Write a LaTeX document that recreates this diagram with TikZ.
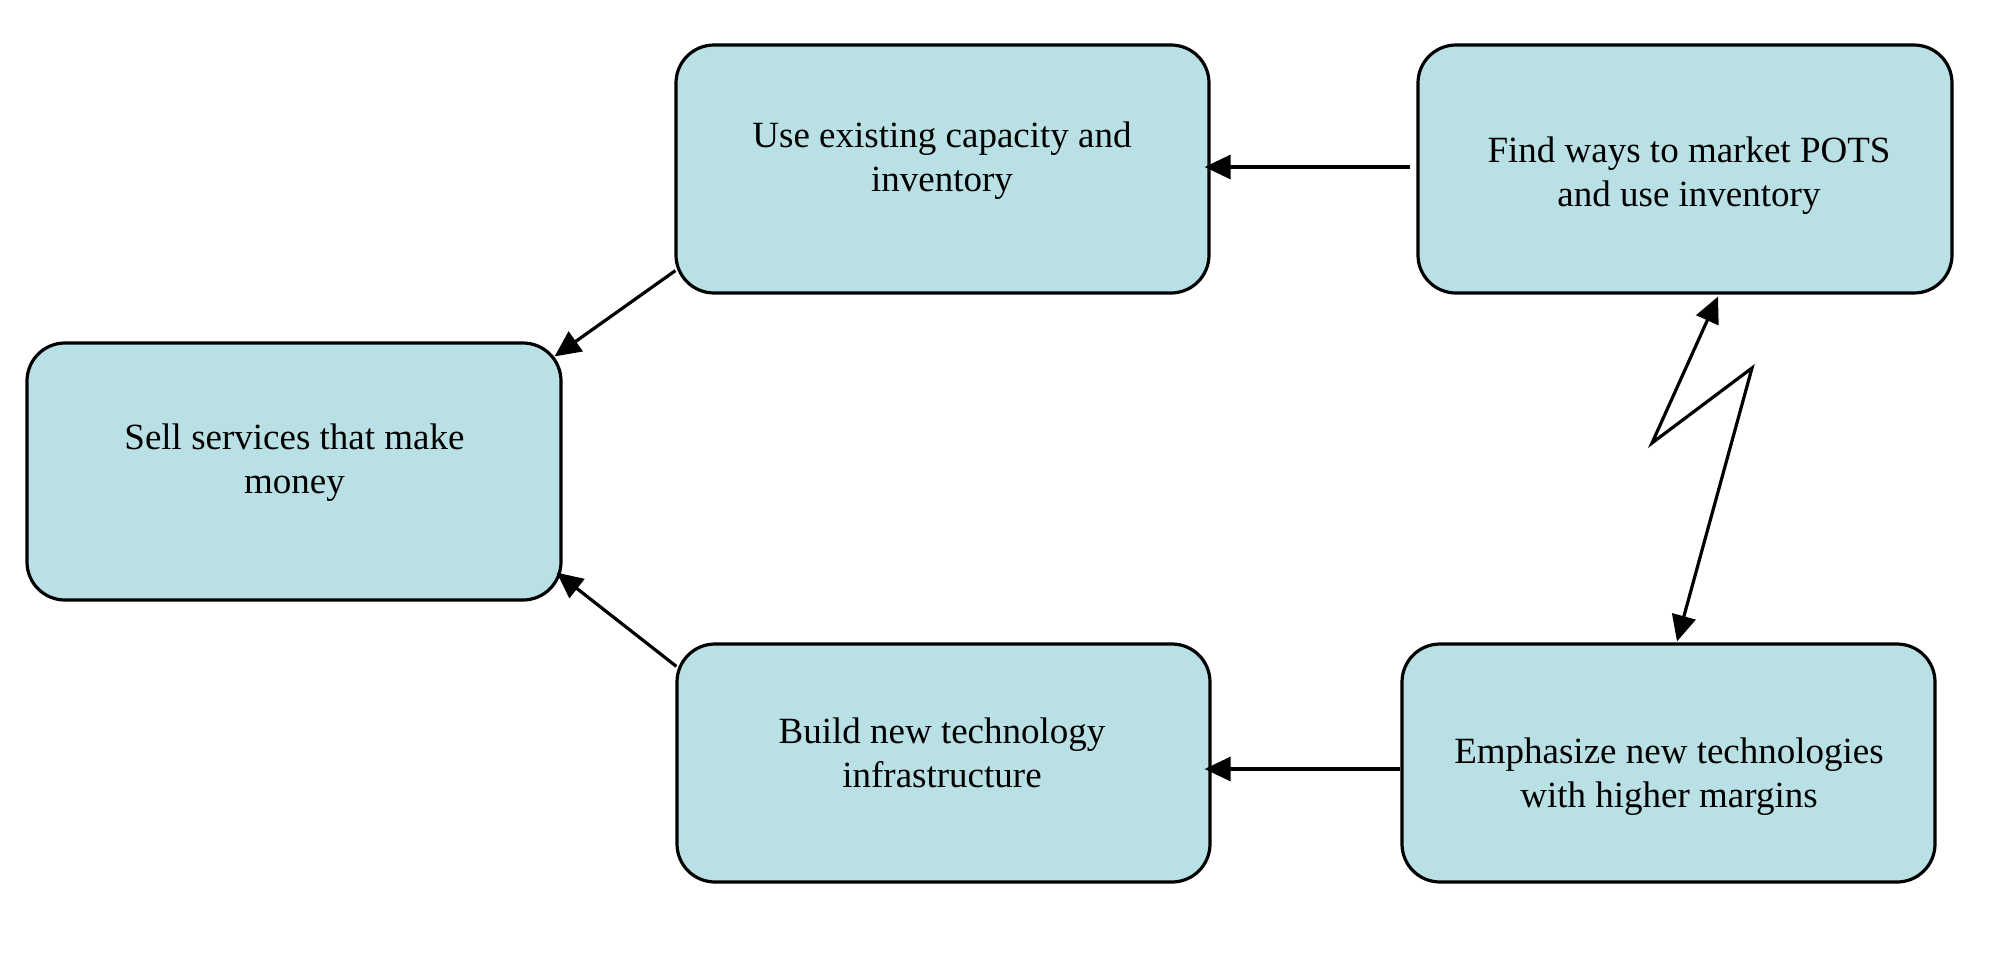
\documentclass[tikz,border=0pt]{standalone}
\usepackage{fontspec}
\setmainfont{Liberation Serif}
\usetikzlibrary{arrows.meta,calc}
\definecolor{boxfill}{RGB}{185,224,228}
\tikzset{
  box/.style={draw=black, line width=1.6pt, fill=boxfill, rounded corners=19pt, inner sep=0pt},
  lbl/.style={align=center, font=\fontsize{18.5}{22}\selectfont, inner sep=0pt},
  arr/.style={line width=1.6pt, -{Triangle[length=13pt,width=12pt]}},
  darr/.style={line width=1.6pt, {Triangle[length=13pt,width=12pt]}-{Triangle[length=13pt,width=12pt]}, line join=miter}
}
\begin{document}
\begin{tikzpicture}[x=0.5pt,y=-0.5pt]
\useasboundingbox (0,0) rectangle (1999,970);
% boxes
\node[box, minimum width=266.5pt, minimum height=124pt] (use) at (942.5,169) {};
\node[box, minimum width=267pt, minimum height=124pt] (find) at (1685,169) {};
\node[box, minimum width=267pt, minimum height=128.5pt] (sell) at (294,471.5) {};
\node[box, minimum width=266.5pt, minimum height=119pt] (build) at (943.5,763) {};
\node[box, minimum width=266.5pt, minimum height=119pt] (emph) at (1668.5,763) {};
% texts
\node[lbl] (usetext) at (942,161) {Use existing capacity and\\inventory};
\node[lbl] (findtext) at (1689,175.5) {Find ways to market POTS\\and use inventory};
\node[lbl] (selltext) at (294.5,462.5) {Sell services that make\\money};
\node[lbl] (buildtext) at (942,753) {Build new technology\\infrastructure};
\node[lbl] (emphtext) at (1669,776.5) {Emphasize new technologies\\with higher margins};
% connectors
\draw[arr] ([xshift=-3pt,yshift=1pt]find.west) -- ([xshift=-3pt,yshift=1pt]use.east);
\draw[arr] ([yshift=-3pt]emph.west) -- ([xshift=-3.5pt,yshift=-3pt]build.east);
\draw[arr] ($(use.south west)+(1,-24)$) -- ($(sell.north east)+(-8,15)$);
\draw[arr] ($(build.north west)+(1,24)$) -- ($(sell.south east)+(-6,-29)$);
\coordinate (k1) at (1652,443);
\coordinate (k2) at (1752,368);
\draw[darr] ($(find.south)+(33,2)$) -- (k1) -- (k2) -- ($(emph.north)+(8.5,-1)$);
\end{tikzpicture}
\end{document}
